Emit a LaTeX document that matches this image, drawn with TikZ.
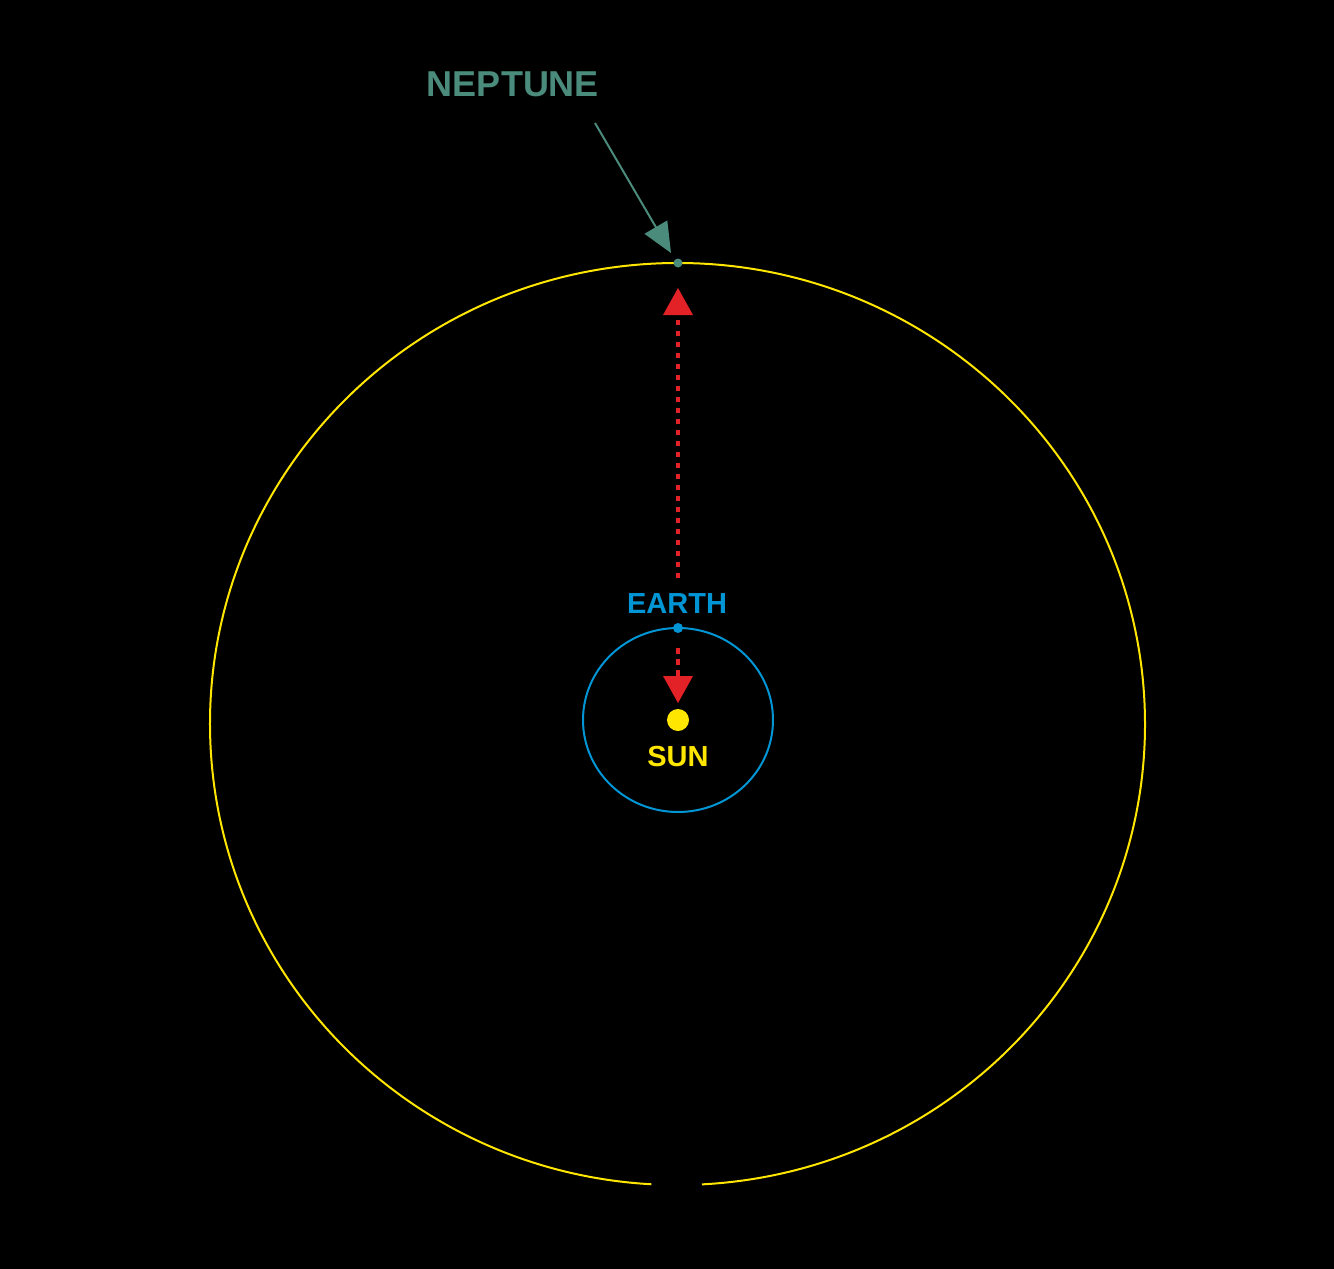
\documentclass[tikz,border=0pt]{standalone}
\usepackage{fontspec}
\setmainfont{Liberation Sans}
\usetikzlibrary{arrows.meta}
\definecolor{sunY}{HTML}{FFE600}
\definecolor{earthB}{HTML}{0096D6}
\definecolor{arrR}{HTML}{E32228}
\definecolor{nepT}{HTML}{4B8B7B}
\begin{document}
\begin{tikzpicture}[x=1pt,y=-1pt,
  lbl/.style={font=\bfseries, inner sep=0pt},
  redline/.style={arrR, line width=4.5pt, dash pattern=on 5.5pt off 5.5pt, -{Triangle[width=30pt,length=27pt,line width=0pt]}}]
\useasboundingbox[fill=black] (0,0) rectangle (1334,1269);
% orbits
\draw[sunY, line width=2pt] (677.5,724) ++(87:467.5 and 461) arc[start angle=87, end angle=-266.8, x radius=467.5, y radius=461];
\draw[earthB, line width=2pt] (678,720) ellipse[x radius=95, y radius=92];
% bodies
\fill[sunY] (678,720) circle[radius=11] node (sun) {};
\fill[earthB] (678,628) circle[radius=5] coordinate (earth);
\fill[nepT] (678,263) circle[radius=4.5] coordinate (nep);
\coordinate (redstart) at (678,578);
\coordinate (redend) at (678,288);
\coordinate (dstart) at (678,648);
\coordinate (dend) at (678,703);
\draw[redline] (redstart) -- (redend);
\draw[redline] (dstart) -- (dend);
% labels
\node[lbl, nepT, font=\fontsize{36}{40}\selectfont\bfseries] (neplbl) at (513,84) {NEPTUNE};
\node[lbl, earthB, font=\fontsize{29}{32}\selectfont\bfseries] (earthlbl) at (677,604) {EARTH};
\node[lbl, sunY, font=\fontsize{29}{32}\selectfont\bfseries] (sunlbl) at (678,757) {SUN};
\coordinate (nepA) at (595,123);
\coordinate (nepB) at (671,253);
\draw[nepT, line width=2pt, -{Triangle[width=26pt,length=30pt]}] (nepA) -- (nepB);
\end{tikzpicture}
\end{document}
